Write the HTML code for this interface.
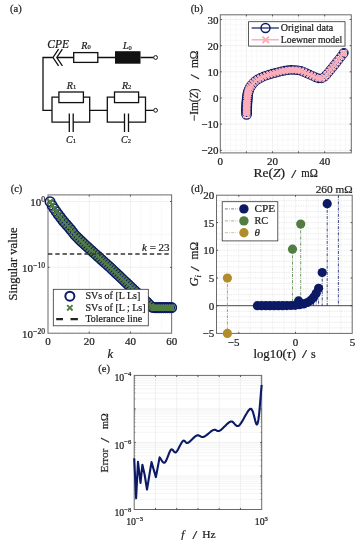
<!DOCTYPE html>
<html lang="en">
<head>
<meta charset="utf-8">
<title>Figure</title>
<style>
html,body{margin:0;padding:0;background:#fff;}
body{width:363px;height:550px;overflow:hidden;}
svg{display:block;font-family:"Liberation Serif","DejaVu Serif",serif;}
text{stroke:#1c1c1c;stroke-width:0.22px;}
</style>
</head>
<body>
<svg width="363" height="550" viewBox="0 0 363 550">
<rect width="363" height="550" fill="#fff"/>
<g id="pa">
<text x="10.1" y="11.9" font-size="10.5" text-anchor="start" fill="#1c1c1c">(a)</text>
<path d="M53 57.5H43V110.3H52M57 57.5H73.7M97.8 57.5H115M140.5 57.5H153.6M58.9 97.2H52V122.2H69.3M73.2 122.2H89.7V97.2H83.4M89.7 110.3H107.3M114.5 97.2H107.3V122.2H124.5M128.5 122.2H145.5V97.2H138.6M145.5 110.3H153.6M69.3 113.4V132M73.2 113.4V132M124.5 113.4V132M128.5 113.4V132M58.6 49.2L53 57.5L58.6 65.8M62.4 49.2L56.8 57.5L62.4 65.8" fill="none" stroke="#111" stroke-width="1.3" stroke-linejoin="miter"/>
<rect x="73.7" y="52.6" width="24.1" height="9.8" fill="#fff" stroke="#111" stroke-width="1.3"/>
<rect x="58.9" y="92" width="24.5" height="10.6" fill="#fff" stroke="#111" stroke-width="1.3"/>
<rect x="114.5" y="92" width="24.1" height="10.6" fill="#fff" stroke="#111" stroke-width="1.3"/>
<rect x="115" y="51.2" width="25.5" height="12.5" fill="#111"/>
<circle cx="155.6" cy="57.5" r="1.9" fill="#fff" stroke="#111" stroke-width="1"/>
<circle cx="155.6" cy="110.3" r="1.9" fill="#fff" stroke="#111" stroke-width="1"/>
<text x="47.3" y="47.7" font-size="11.5" text-anchor="start" font-style="italic" fill="#1c1c1c">CPE</text>
<text x="81.3" y="49" font-size="10" fill="#1c1c1c"><tspan font-style="italic">R</tspan><tspan font-size="6.5" dy="0.3">0</tspan></text>
<text x="123" y="49.3" font-size="10" fill="#1c1c1c"><tspan font-style="italic">L</tspan><tspan font-size="6.5" dy="0.3">0</tspan></text>
<text x="66.8" y="88.9" font-size="10" fill="#1c1c1c"><tspan font-style="italic">R</tspan><tspan font-size="6.5" dy="0.3">1</tspan></text>
<text x="122" y="88.9" font-size="10" fill="#1c1c1c"><tspan font-style="italic">R</tspan><tspan font-size="6.5" dy="0.3">2</tspan></text>
<text x="66" y="142.5" font-size="10" fill="#1c1c1c"><tspan font-style="italic">C</tspan><tspan font-size="6.5" dy="0.3">1</tspan></text>
<text x="121" y="142.5" font-size="10" fill="#1c1c1c"><tspan font-style="italic">C</tspan><tspan font-size="6.5" dy="0.3">2</tspan></text>
</g>
<g id="pb">
<text x="190.8" y="11.9" font-size="10.5" text-anchor="start" fill="#1c1c1c">(b)</text>
<path d="M225.52 14.8V152.9M230.74 14.8V152.9M235.95 14.8V152.9M241.17 14.8V152.9M251.61 14.8V152.9M256.83 14.8V152.9M262.04 14.8V152.9M267.26 14.8V152.9M277.7 14.8V152.9M282.92 14.8V152.9M288.13 14.8V152.9M293.35 14.8V152.9M303.79 14.8V152.9M309.01 14.8V152.9M314.22 14.8V152.9M319.44 14.8V152.9M329.88 14.8V152.9M335.1 14.8V152.9M340.31 14.8V152.9M345.53 14.8V152.9" stroke="#ebebeb" stroke-width="0.6" fill="none" stroke-dasharray="1 1"/>
<path d="M220.3 145.07H351.3M220.3 139.84H351.3M220.3 134.6H351.3M220.3 129.37H351.3M220.3 118.91H351.3M220.3 113.68H351.3M220.3 108.44H351.3M220.3 103.21H351.3M220.3 92.75H351.3M220.3 87.52H351.3M220.3 82.28H351.3M220.3 77.05H351.3M220.3 66.59H351.3M220.3 61.36H351.3M220.3 56.12H351.3M220.3 50.89H351.3M220.3 40.43H351.3M220.3 35.2H351.3M220.3 29.96H351.3M220.3 24.73H351.3" stroke="#ebebeb" stroke-width="0.6" fill="none" stroke-dasharray="1 1"/>
<path d="M246.39 14.8V152.9M272.48 14.8V152.9M298.57 14.8V152.9M324.66 14.8V152.9" stroke="#e7e7e7" stroke-width="0.6" fill="none"/>
<path d="M220.3 150.3H351.3M220.3 124.14H351.3M220.3 97.98H351.3M220.3 71.82H351.3M220.3 45.66H351.3M220.3 19.5H351.3" stroke="#e7e7e7" stroke-width="0.6" fill="none"/>
<rect x="220.3" y="14.8" width="131" height="138.1" fill="none" stroke="#6a6a6a" stroke-width="1"/>
<path d="M246.39 152.9v-1.6M246.39 14.8v1.6M272.48 152.9v-1.6M272.48 14.8v1.6M298.57 152.9v-1.6M298.57 14.8v1.6M324.66 152.9v-1.6M324.66 14.8v1.6M220.3 150.3h1.6M351.3 150.3h-1.6M220.3 124.14h1.6M351.3 124.14h-1.6M220.3 97.98h1.6M351.3 97.98h-1.6M220.3 71.82h1.6M351.3 71.82h-1.6M220.3 45.66h1.6M351.3 45.66h-1.6M220.3 19.5h1.6M351.3 19.5h-1.6" stroke="#333" stroke-width="0.8" fill="none"/>
<g fill="none" stroke="#0c1a66" stroke-width="1.15"><circle cx="246.6" cy="114.3" r="4.85"/><circle cx="246.64" cy="111.7" r="4.85"/><circle cx="246.65" cy="110.64" r="4.85"/><circle cx="246.67" cy="109.52" r="4.85"/><circle cx="246.69" cy="108.33" r="4.85"/><circle cx="246.72" cy="107.07" r="4.85"/><circle cx="246.77" cy="105.74" r="4.85"/><circle cx="246.83" cy="104.32" r="4.85"/><circle cx="246.91" cy="102.82" r="4.85"/><circle cx="247.02" cy="101.22" r="4.85"/><circle cx="247.15" cy="99.54" r="4.85"/><circle cx="247.31" cy="97.75" r="4.82"/><circle cx="247.54" cy="95.86" r="4.78"/><circle cx="247.84" cy="93.86" r="4.74"/><circle cx="248.28" cy="91.77" r="4.7"/><circle cx="248.99" cy="89.62" r="4.65"/><circle cx="250.03" cy="87.45" r="4.6"/><circle cx="251.42" cy="85.31" r="4.55"/><circle cx="253.13" cy="83.22" r="4.5"/><circle cx="255.23" cy="81.25" r="4.44"/><circle cx="257.71" cy="79.5" r="4.38"/><circle cx="260.52" cy="77.97" r="4.32"/><circle cx="263.43" cy="76.63" r="4.25"/><circle cx="266.41" cy="75.48" r="4.25"/><circle cx="269.47" cy="74.52" r="4.25"/><circle cx="272.55" cy="73.65" r="4.25"/><circle cx="275.63" cy="72.81" r="4.25"/><circle cx="278.73" cy="72.01" r="4.25"/><circle cx="281.85" cy="71.29" r="4.25"/><circle cx="284.99" cy="70.69" r="4.25"/><circle cx="288.15" cy="70.18" r="4.25"/><circle cx="291.33" cy="69.88" r="4.25"/><circle cx="294.53" cy="70" r="4.25"/><circle cx="297.72" cy="70.25" r="4.25"/><circle cx="300.86" cy="70.82" r="4.25"/><circle cx="303.83" cy="72" r="4.25"/><circle cx="306.75" cy="73.32" r="4.25"/><circle cx="309.66" cy="74.64" r="4.25"/><circle cx="312.58" cy="75.96" r="4.25"/><circle cx="315.48" cy="77.31" r="4.25"/><circle cx="318.5" cy="78.35" r="4.25"/><circle cx="321.66" cy="78.46" r="4.25"/><circle cx="324.38" cy="76.83" r="4.25"/><circle cx="326.6" cy="74.53" r="4.25"/><circle cx="328.69" cy="72.1" r="4.25"/><circle cx="330.74" cy="69.64" r="4.25"/><circle cx="332.76" cy="67.16" r="4.25"/><circle cx="334.79" cy="64.64" r="4.25"/><circle cx="336.83" cy="62.03" r="4.25"/><circle cx="338.9" cy="59.34" r="4.25"/><circle cx="341.01" cy="56.58" r="4.25"/><circle cx="343.17" cy="53.76" r="4.25"/><circle cx="343.9" cy="52.8" r="4.25"/></g>
<path d="M246.6 114.3L246.64 111.7L246.65 110.64L246.67 109.52L246.69 108.33L246.72 107.07L246.77 105.74L246.83 104.32L246.91 102.82L247.02 101.22L247.15 99.54L247.31 97.75L247.54 95.86L247.84 93.86L248.28 91.77L248.99 89.62L250.03 87.45L251.42 85.31L253.13 83.22L255.23 81.25L257.71 79.5L260.52 77.97L263.43 76.63L266.41 75.48L269.47 74.52L272.55 73.65L275.63 72.81L278.73 72.01L281.85 71.29L284.99 70.69L288.15 70.18L291.33 69.88L294.53 70L297.72 70.25L300.86 70.82L303.83 72L306.75 73.32L309.66 74.64L312.58 75.96L315.48 77.31L318.5 78.35L321.66 78.46L324.38 76.83L326.6 74.53L328.69 72.1L330.74 69.64L332.76 67.16L334.79 64.64L336.83 62.03L338.9 59.34L341.01 56.58L343.17 53.76L343.9 52.8" fill="none" stroke="#fbadb9" stroke-width="1.2"/>
<path d="M243.2 110.9l6.8 6.8M243.2 117.7l6.8 -6.8M243.24 108.3l6.8 6.8M243.24 115.1l6.8 -6.8M243.25 107.24l6.8 6.8M243.25 114.04l6.8 -6.8M243.27 106.12l6.8 6.8M243.27 112.92l6.8 -6.8M243.29 104.93l6.8 6.8M243.29 111.73l6.8 -6.8M243.32 103.67l6.8 6.8M243.32 110.47l6.8 -6.8M243.37 102.34l6.8 6.8M243.37 109.14l6.8 -6.8M243.43 100.92l6.8 6.8M243.43 107.72l6.8 -6.8M243.51 99.42l6.8 6.8M243.51 106.22l6.8 -6.8M243.62 97.82l6.8 6.8M243.62 104.62l6.8 -6.8M243.75 96.14l6.8 6.8M243.75 102.94l6.8 -6.8M243.94 94.37l6.75 6.75M243.94 101.13l6.75 -6.75M244.2 92.51l6.7 6.7M244.2 99.21l6.7 -6.7M244.52 90.55l6.64 6.64M244.52 97.18l6.64 -6.64M245 88.49l6.57 6.57M245 95.06l6.57 -6.57M245.74 86.37l6.5 6.5M245.74 92.87l6.5 -6.5M246.81 84.23l6.43 6.43M246.81 90.66l6.43 -6.43M248.24 82.13l6.35 6.35M248.24 88.48l6.35 -6.35M250 80.08l6.27 6.27M250 86.35l6.27 -6.27M252.14 78.16l6.19 6.19M252.14 84.35l6.19 -6.19M254.66 76.45l6.1 6.1M254.66 82.54l6.1 -6.1M257.52 74.97l6 6M257.52 80.97l6 -6M260.48 73.68l5.9 5.9M260.48 79.59l5.9 -5.9M263.46 72.53l5.9 5.9M263.46 78.43l5.9 -5.9M266.52 71.57l5.9 5.9M266.52 77.47l5.9 -5.9M269.6 70.7l5.9 5.9M269.6 76.6l5.9 -5.9M272.68 69.86l5.9 5.9M272.68 75.76l5.9 -5.9M275.78 69.06l5.9 5.9M275.78 74.96l5.9 -5.9M278.9 68.34l5.9 5.9M278.9 74.24l5.9 -5.9M282.04 67.74l5.9 5.9M282.04 73.64l5.9 -5.9M285.2 67.23l5.9 5.9M285.2 73.13l5.9 -5.9M288.38 66.93l5.9 5.9M288.38 72.83l5.9 -5.9M291.58 67.05l5.9 5.9M291.58 72.95l5.9 -5.9M294.77 67.3l5.9 5.9M294.77 73.2l5.9 -5.9M297.91 67.87l5.9 5.9M297.91 73.77l5.9 -5.9M300.88 69.05l5.9 5.9M300.88 74.95l5.9 -5.9M303.8 70.37l5.9 5.9M303.8 76.27l5.9 -5.9M306.71 71.69l5.9 5.9M306.71 77.59l5.9 -5.9M309.63 73.01l5.9 5.9M309.63 78.91l5.9 -5.9M312.53 74.36l5.9 5.9M312.53 80.26l5.9 -5.9M315.55 75.4l5.9 5.9M315.55 81.3l5.9 -5.9M318.71 75.51l5.9 5.9M318.71 81.41l5.9 -5.9M321.43 73.88l5.9 5.9M321.43 79.78l5.9 -5.9M323.65 71.58l5.9 5.9M323.65 77.48l5.9 -5.9M325.74 69.15l5.9 5.9M325.74 75.05l5.9 -5.9M327.79 66.69l5.9 5.9M327.79 72.59l5.9 -5.9M329.81 64.21l5.9 5.9M329.81 70.11l5.9 -5.9M331.84 61.69l5.9 5.9M331.84 67.59l5.9 -5.9M333.88 59.08l5.9 5.9M333.88 64.98l5.9 -5.9M335.95 56.39l5.9 5.9M335.95 62.29l5.9 -5.9M338.06 53.63l5.9 5.9M338.06 59.53l5.9 -5.9M340.22 50.81l5.9 5.9M340.22 56.71l5.9 -5.9M340.95 49.85l5.9 5.9M340.95 55.75l5.9 -5.9" fill="none" stroke="#fbadb9" stroke-width="2"/>
<rect x="248.6" y="21.7" width="96.4" height="24.4" fill="#fff" stroke="#333" stroke-width="0.8"/>
<line x1="251.6" y1="28" x2="278.9" y2="28" stroke="#0c1a66" stroke-width="1.2"/>
<circle cx="265.5" cy="28.0" r="4.5" fill="none" stroke="#0c1a66" stroke-width="1.4"/>
<line x1="251.6" y1="39.8" x2="278.9" y2="39.8" stroke="#fbadb9" stroke-width="1.5"/>
<path d="M262.5 36.6l6.4 6.4M262.5 43l6.4 -6.4" stroke="#fbadb9" stroke-width="1.9" fill="none"/>
<text x="280.8" y="30.9" font-size="10" text-anchor="start" fill="#1c1c1c">Original data</text>
<text x="280.8" y="42.5" font-size="10" text-anchor="start" fill="#1c1c1c" textLength="61.5" lengthAdjust="spacingAndGlyphs">Loewner model</text>
<text x="218.4" y="23.75" font-size="11" text-anchor="end" fill="#1c1c1c">30</text>
<text x="218.4" y="49.76" font-size="11" text-anchor="end" fill="#1c1c1c">20</text>
<text x="218.4" y="75.77" font-size="11" text-anchor="end" fill="#1c1c1c">10</text>
<text x="218.4" y="101.78" font-size="11" text-anchor="end" fill="#1c1c1c">0</text>
<text x="218.4" y="127.79" font-size="11" text-anchor="end" fill="#1c1c1c">−10</text>
<text x="218.4" y="153.8" font-size="11" text-anchor="end" fill="#1c1c1c">−20</text>
<text x="220.3" y="165.1" font-size="11" text-anchor="middle" fill="#1c1c1c">0</text>
<text x="272.48" y="165.1" font-size="11" text-anchor="middle" fill="#1c1c1c">20</text>
<text x="324.66" y="165.1" font-size="11" text-anchor="middle" fill="#1c1c1c">40</text>
<g transform="translate(198 121) rotate(-90)" font-size="12" fill="#1c1c1c" stroke-width="0.3">
<text x="0" y="0" text-anchor="start" stroke-width="0.3" textLength="32.6" lengthAdjust="spacingAndGlyphs">−Im(<tspan font-style="italic">Z</tspan>)</text>
<text x="41.68" y="0.6" font-size="13.2" stroke-width="0.3" textLength="5.04" lengthAdjust="spacingAndGlyphs">/</text>
<text x="52.9" y="0" text-anchor="start" stroke-width="0.3" textLength="17.4" lengthAdjust="spacingAndGlyphs">mΩ</text>
</g>
<g transform="translate(253.4 177.4)" font-size="12" fill="#1c1c1c" stroke-width="0.3">
<text x="0" y="0" text-anchor="start" stroke-width="0.3" textLength="31.7" lengthAdjust="spacingAndGlyphs">Re(<tspan font-style="italic">Z</tspan>)</text>
<text x="37.78" y="0.6" font-size="13.2" stroke-width="0.3" textLength="5.04" lengthAdjust="spacingAndGlyphs">/</text>
<text x="47.8" y="0" text-anchor="start" stroke-width="0.3" textLength="16.5" lengthAdjust="spacingAndGlyphs">mΩ</text>
</g>
</g>
<g id="pc">
<text x="10.7" y="191.5" font-size="10.5" text-anchor="start" fill="#1c1c1c" stroke-width="0.45">(c)</text>
<path d="M58.3 194.9V333.2M68.61 194.9V333.2M78.91 194.9V333.2M99.52 194.9V333.2M109.83 194.9V333.2M120.13 194.9V333.2M140.74 194.9V333.2M151.04 194.9V333.2M161.35 194.9V333.2" stroke="#ebebeb" stroke-width="0.6" fill="none" stroke-dasharray="1 1"/>
<path d="M48 234.41H171.65M48 300.27H171.65" stroke="#ebebeb" stroke-width="0.6" fill="none" stroke-dasharray="1 1"/>
<path d="M89.22 194.9V333.2M130.43 194.9V333.2" stroke="#e7e7e7" stroke-width="0.6" fill="none"/>
<path d="M48 201.49H171.65M48 267.34H171.65" stroke="#e7e7e7" stroke-width="0.6" fill="none"/>
<rect x="48" y="194.9" width="123.65" height="138.3" fill="none" stroke="#6a6a6a" stroke-width="1"/>
<path d="M89.22 333.2v-1.6M89.22 194.9v1.6M130.43 333.2v-1.6M130.43 194.9v1.6M48 201.49h1.6M171.65 201.49h-1.6M48 267.34h1.6M171.65 267.34h-1.6" stroke="#333" stroke-width="0.8" fill="none"/>
<g fill="none" stroke="#0c1a66" stroke-width="1.65"><circle cx="50.06" cy="201.71" r="4.7"/><circle cx="52.12" cy="205.42" r="4.7"/><circle cx="54.18" cy="208.69" r="4.7"/><circle cx="56.24" cy="211.63" r="4.7"/><circle cx="58.3" cy="214.48" r="4.7"/><circle cx="60.37" cy="217.26" r="4.7"/><circle cx="62.43" cy="220.03" r="4.7"/><circle cx="64.49" cy="222.46" r="4.7"/><circle cx="66.55" cy="224.75" r="4.7"/><circle cx="68.61" cy="227.05" r="4.7"/><circle cx="70.67" cy="229.47" r="4.7"/><circle cx="72.73" cy="232.15" r="4.7"/><circle cx="74.79" cy="234.83" r="4.7"/><circle cx="76.85" cy="236.95" r="4.7"/><circle cx="78.91" cy="239.01" r="4.7"/><circle cx="80.97" cy="241" r="4.7"/><circle cx="83.03" cy="242.89" r="4.7"/><circle cx="85.09" cy="244.79" r="4.7"/><circle cx="87.16" cy="246.68" r="4.7"/><circle cx="89.22" cy="248.58" r="4.7"/><circle cx="91.28" cy="250.45" r="4.7"/><circle cx="93.34" cy="252.3" r="4.7"/><circle cx="95.4" cy="254.16" r="4.7"/><circle cx="97.46" cy="256.01" r="4.7"/><circle cx="99.52" cy="257.87" r="4.7"/><circle cx="101.58" cy="259.72" r="4.7"/><circle cx="103.64" cy="261.58" r="4.7"/><circle cx="105.7" cy="263.43" r="4.7"/><circle cx="107.76" cy="265.29" r="4.7"/><circle cx="109.83" cy="267.14" r="4.7"/><circle cx="111.89" cy="269.09" r="4.7"/><circle cx="113.95" cy="271.04" r="4.7"/><circle cx="116.01" cy="273" r="4.7"/><circle cx="118.07" cy="274.95" r="4.7"/><circle cx="120.13" cy="276.9" r="4.7"/><circle cx="122.19" cy="278.86" r="4.7"/><circle cx="124.25" cy="280.81" r="4.7"/><circle cx="126.31" cy="282.76" r="4.7"/><circle cx="128.37" cy="284.72" r="4.7"/><circle cx="130.43" cy="286.67" r="4.7"/><circle cx="132.49" cy="288.62" r="4.7"/><circle cx="134.56" cy="290.58" r="4.7"/><circle cx="136.62" cy="292.49" r="4.7"/><circle cx="138.68" cy="294.39" r="4.7"/><circle cx="140.74" cy="296.28" r="4.7"/><circle cx="142.8" cy="298.2" r="4.7"/><circle cx="144.86" cy="300.23" r="4.7"/><circle cx="146.92" cy="302.27" r="4.7"/><circle cx="148.98" cy="304.31" r="4.7"/><circle cx="151.04" cy="306.34" r="4.7"/><circle cx="153.1" cy="307.55" r="4.7"/><circle cx="155.16" cy="307.6" r="4.7"/><circle cx="157.22" cy="307.6" r="4.7"/><circle cx="159.29" cy="307.6" r="4.7"/><circle cx="161.35" cy="307.6" r="4.7"/><circle cx="163.41" cy="307.6" r="4.7"/><circle cx="165.47" cy="307.6" r="4.7"/><circle cx="167.53" cy="307.6" r="4.7"/><circle cx="169.59" cy="307.6" r="4.7"/><circle cx="171.65" cy="307.6" r="4.7"/></g>
<path d="M47.16 198.81l5.8 5.8M47.16 204.61l5.8 -5.8M49.22 202.52l5.8 5.8M49.22 208.32l5.8 -5.8M51.28 205.79l5.8 5.8M51.28 211.59l5.8 -5.8M53.34 208.73l5.8 5.8M53.34 214.53l5.8 -5.8M55.4 211.58l5.8 5.8M55.4 217.38l5.8 -5.8M57.47 214.36l5.8 5.8M57.47 220.16l5.8 -5.8M59.53 217.13l5.8 5.8M59.53 222.93l5.8 -5.8M61.59 219.56l5.8 5.8M61.59 225.36l5.8 -5.8M63.65 221.85l5.8 5.8M63.65 227.65l5.8 -5.8M65.71 224.15l5.8 5.8M65.71 229.95l5.8 -5.8M67.77 226.57l5.8 5.8M67.77 232.37l5.8 -5.8M69.83 229.25l5.8 5.8M69.83 235.05l5.8 -5.8M71.89 231.93l5.8 5.8M71.89 237.73l5.8 -5.8M73.95 234.05l5.8 5.8M73.95 239.85l5.8 -5.8M76.01 236.11l5.8 5.8M76.01 241.91l5.8 -5.8M78.07 238.1l5.8 5.8M78.07 243.9l5.8 -5.8M80.13 239.99l5.8 5.8M80.13 245.79l5.8 -5.8M82.19 241.89l5.8 5.8M82.19 247.69l5.8 -5.8M84.26 243.78l5.8 5.8M84.26 249.58l5.8 -5.8M86.32 245.68l5.8 5.8M86.32 251.48l5.8 -5.8M88.38 247.55l5.8 5.8M88.38 253.35l5.8 -5.8M90.44 249.4l5.8 5.8M90.44 255.2l5.8 -5.8M92.5 251.26l5.8 5.8M92.5 257.06l5.8 -5.8M94.56 253.11l5.8 5.8M94.56 258.91l5.8 -5.8M96.62 254.97l5.8 5.8M96.62 260.77l5.8 -5.8M98.68 256.82l5.8 5.8M98.68 262.62l5.8 -5.8M100.74 258.68l5.8 5.8M100.74 264.48l5.8 -5.8M102.8 260.53l5.8 5.8M102.8 266.33l5.8 -5.8M104.86 262.39l5.8 5.8M104.86 268.19l5.8 -5.8M106.92 264.24l5.8 5.8M106.92 270.04l5.8 -5.8M108.99 266.19l5.8 5.8M108.99 271.99l5.8 -5.8M111.05 268.14l5.8 5.8M111.05 273.94l5.8 -5.8M113.11 270.1l5.8 5.8M113.11 275.9l5.8 -5.8M115.17 272.05l5.8 5.8M115.17 277.85l5.8 -5.8M117.23 274l5.8 5.8M117.23 279.8l5.8 -5.8M119.29 275.96l5.8 5.8M119.29 281.76l5.8 -5.8M121.35 277.91l5.8 5.8M121.35 283.71l5.8 -5.8M123.41 279.86l5.8 5.8M123.41 285.66l5.8 -5.8M125.47 281.82l5.8 5.8M125.47 287.62l5.8 -5.8M127.53 283.77l5.8 5.8M127.53 289.57l5.8 -5.8M129.59 285.72l5.8 5.8M129.59 291.52l5.8 -5.8M131.66 287.68l5.8 5.8M131.66 293.48l5.8 -5.8M133.72 289.59l5.8 5.8M133.72 295.39l5.8 -5.8M135.78 291.49l5.8 5.8M135.78 297.29l5.8 -5.8M137.84 293.38l5.8 5.8M137.84 299.18l5.8 -5.8M139.9 295.3l5.8 5.8M139.9 301.1l5.8 -5.8M141.96 297.33l5.8 5.8M141.96 303.13l5.8 -5.8M144.02 299.37l5.8 5.8M144.02 305.17l5.8 -5.8M146.08 301.41l5.8 5.8M146.08 307.21l5.8 -5.8M148.14 303.44l5.8 5.8M148.14 309.24l5.8 -5.8M150.2 304.65l5.8 5.8M150.2 310.45l5.8 -5.8M152.26 304.7l5.8 5.8M152.26 310.5l5.8 -5.8M154.32 304.7l5.8 5.8M154.32 310.5l5.8 -5.8M156.39 304.7l5.8 5.8M156.39 310.5l5.8 -5.8M158.45 304.7l5.8 5.8M158.45 310.5l5.8 -5.8M160.51 304.7l5.8 5.8M160.51 310.5l5.8 -5.8M162.57 304.7l5.8 5.8M162.57 310.5l5.8 -5.8M164.63 304.7l5.8 5.8M164.63 310.5l5.8 -5.8M166.69 304.7l5.8 5.8M166.69 310.5l5.8 -5.8M168.75 304.7l5.8 5.8M168.75 310.5l5.8 -5.8" fill="none" stroke="#527d42" stroke-width="1.9"/>
<line x1="48" y1="254" x2="169.2" y2="254" stroke="#333" stroke-width="1.4" stroke-dasharray="4.4 2.87"/>
<text x="142" y="250.7" font-size="11" text-anchor="start" fill="#1c1c1c"><tspan font-style="italic">k</tspan> = 23</text>
<rect x="53.3" y="289.3" width="95" height="36.5" fill="#fff" stroke="#333" stroke-width="0.8"/>
<circle cx="69.85" cy="296.2" r="4.5" fill="none" stroke="#0c1a66" stroke-width="2"/>
<path d="M67.15 305.1l5.4 5.4M67.15 310.5l5.4 -5.4" stroke="#527d42" stroke-width="1.9" fill="none"/>
<path d="M56.2 319.1h6.8M70.5 319.1h7.4" stroke="#222" stroke-width="2.2" fill="none"/>
<text x="85.4" y="299.3" font-size="10" text-anchor="start" fill="#1c1c1c">SVs of [L Ls]</text>
<text x="85.4" y="311.1" font-size="10" text-anchor="start" fill="#1c1c1c">SVs of [L ; Ls]</text>
<text x="85.4" y="322.4" font-size="10" text-anchor="start" fill="#1c1c1c">Tolerance line</text>
<text x="48" y="345.3" font-size="11" text-anchor="middle" fill="#1c1c1c">0</text>
<text x="89.22" y="345.3" font-size="11" text-anchor="middle" fill="#1c1c1c">20</text>
<text x="130.43" y="345.3" font-size="11" text-anchor="middle" fill="#1c1c1c">40</text>
<text x="171.65" y="345.3" font-size="11" text-anchor="middle" fill="#1c1c1c">60</text>
<text x="45" y="206.19" font-size="11" fill="#1c1c1c" text-anchor="end">10<tspan font-size="7.6" dy="-3.9">0</tspan></text>
<text x="45" y="272.04" font-size="11" fill="#1c1c1c" text-anchor="end">10<tspan font-size="7.6" dy="-3.9">−10</tspan></text>
<text x="45" y="337.9" font-size="11" fill="#1c1c1c" text-anchor="end">10<tspan font-size="7.6" dy="-3.9">−20</tspan></text>
<text transform="translate(17.4 264) rotate(-90)" font-size="12.5" text-anchor="middle" fill="#1c1c1c" textLength="73" lengthAdjust="spacing">Singular value</text>
<text x="110.2" y="358" font-size="12.5" text-anchor="middle" font-style="italic" fill="#1c1c1c">k</text>
</g>
<g id="pd">
<text x="190.9" y="191.5" font-size="10.5" text-anchor="start" fill="#1c1c1c">(d)</text>
<path d="M227.46 195.2V333.4M238.8 195.2V333.4M250.14 195.2V333.4M261.48 195.2V333.4M272.82 195.2V333.4M284.16 195.2V333.4M295.5 195.2V333.4M306.84 195.2V333.4M318.18 195.2V333.4M329.52 195.2V333.4M340.86 195.2V333.4" stroke="#e6e6e6" stroke-width="0.6" fill="none" stroke-dasharray="2 0.8"/>
<path d="M216.5 327.86H352.2M216.5 322.32H352.2M216.5 316.78H352.2M216.5 311.24H352.2M216.5 300.16H352.2M216.5 294.62H352.2M216.5 289.08H352.2M216.5 283.54H352.2M216.5 278H352.2M216.5 272.46H352.2M216.5 266.92H352.2M216.5 261.38H352.2M216.5 255.84H352.2M216.5 250.3H352.2M216.5 244.76H352.2M216.5 239.22H352.2M216.5 233.68H352.2M216.5 228.14H352.2M216.5 222.6H352.2M216.5 217.06H352.2M216.5 211.52H352.2M216.5 205.98H352.2M216.5 200.44H352.2" stroke="#dedede" stroke-width="0.7" fill="none" stroke-dasharray="1.3 1.1"/>
<rect x="216.5" y="195.2" width="135.7" height="138.2" fill="none" stroke="#6a6a6a" stroke-width="1"/>
<path d="M238.8 333.4v-1.6M238.8 195.2v1.6M295.5 333.4v-1.6M295.5 195.2v1.6M216.5 222.6h1.6M352.2 222.6h-1.6M216.5 250.3h1.6M352.2 250.3h-1.6M216.5 278h1.6M352.2 278h-1.6M216.5 305.7h1.6M352.2 305.7h-1.6" stroke="#333" stroke-width="0.8" fill="none"/>
<line x1="216.5" y1="305.7" x2="352.2" y2="305.7" stroke="#333" stroke-width="0.9"/>
<line x1="227.4" y1="278" x2="227.4" y2="333.4" stroke="#b08d2a" stroke-width="0.8" stroke-dasharray="3 1.2 0.8 1.2"/>
<circle cx="227.4" cy="278" r="4.6" fill="#b08d2a"/>
<circle cx="227.4" cy="333.4" r="4.6" fill="#b08d2a"/>
<line x1="292.5" y1="249.2" x2="292.5" y2="305.7" stroke="#527d42" stroke-width="0.8" stroke-dasharray="3 1.2 0.8 1.2"/>
<line x1="300.7" y1="224.1" x2="300.7" y2="305.7" stroke="#527d42" stroke-width="0.8" stroke-dasharray="3 1.2 0.8 1.2"/>
<line x1="298.6" y1="300.9" x2="298.6" y2="305.7" stroke="#0c1a66" stroke-width="0.8" stroke-dasharray="3 1.2 0.8 1.2"/>
<line x1="307.4" y1="302.5" x2="307.4" y2="305.7" stroke="#0c1a66" stroke-width="0.8" stroke-dasharray="3 1.2 0.8 1.2"/>
<line x1="310.8" y1="300.3" x2="310.8" y2="305.7" stroke="#0c1a66" stroke-width="0.8" stroke-dasharray="3 1.2 0.8 1.2"/>
<line x1="313.6" y1="297.3" x2="313.6" y2="305.7" stroke="#0c1a66" stroke-width="0.8" stroke-dasharray="3 1.2 0.8 1.2"/>
<line x1="316.2" y1="293.3" x2="316.2" y2="305.7" stroke="#0c1a66" stroke-width="0.8" stroke-dasharray="3 1.2 0.8 1.2"/>
<line x1="318.6" y1="288.3" x2="318.6" y2="305.7" stroke="#0c1a66" stroke-width="0.8" stroke-dasharray="3 1.2 0.8 1.2"/>
<line x1="322.2" y1="272.5" x2="322.2" y2="305.7" stroke="#0c1a66" stroke-width="0.8" stroke-dasharray="3 1.2 0.8 1.2"/>
<line x1="327.2" y1="203.7" x2="327.2" y2="305.7" stroke="#0c1a66" stroke-width="0.8" stroke-dasharray="3 1.2 0.8 1.2"/>
<line x1="338.4" y1="195.2" x2="338.4" y2="305.7" stroke="#0c1a66" stroke-width="0.8" stroke-dasharray="3 1.2 0.8 1.2"/>
<circle cx="292.5" cy="249.2" r="4.6" fill="#527d42"/>
<circle cx="300.7" cy="224.1" r="4.6" fill="#527d42"/>
<g fill="#0c1a66"><circle cx="257.4" cy="305.7" r="4.6"/><circle cx="261.6" cy="305.7" r="4.6"/><circle cx="265.8" cy="305.7" r="4.6"/><circle cx="270" cy="305.7" r="4.6"/><circle cx="274.2" cy="305.7" r="4.6"/><circle cx="278.4" cy="305.7" r="4.6"/><circle cx="282.6" cy="305.7" r="4.6"/><circle cx="286.8" cy="305.6" r="4.6"/><circle cx="291" cy="305.5" r="4.6"/><circle cx="295.2" cy="305.3" r="4.6"/><circle cx="298.6" cy="300.9" r="4.6"/><circle cx="299.4" cy="304.7" r="4.6"/><circle cx="303.6" cy="303.9" r="4.6"/><circle cx="307.4" cy="302.5" r="4.6"/><circle cx="310.8" cy="300.3" r="4.6"/><circle cx="313.6" cy="297.3" r="4.6"/><circle cx="316.2" cy="293.3" r="4.6"/><circle cx="318.6" cy="288.3" r="4.6"/><circle cx="322.2" cy="272.5" r="4.6"/><circle cx="327.2" cy="203.7" r="4.6"/></g>
<rect x="222.2" y="201.7" width="55.6" height="39.2" fill="#fff" stroke="#333" stroke-width="0.8"/>
<line x1="224.9" y1="208.9" x2="237.8" y2="208.9" stroke="#0c1a66" stroke-width="0.7" stroke-dasharray="3 1.2 0.8 1.2" stroke-opacity="0.8"/>
<circle cx="243.9" cy="208.9" r="4.7" fill="#0c1a66"/>
<text x="254.5" y="212.4" font-size="11" text-anchor="start" fill="#1c1c1c" textLength="20.7" lengthAdjust="spacingAndGlyphs">CPE</text>
<line x1="224.9" y1="220.9" x2="237.8" y2="220.9" stroke="#527d42" stroke-width="0.7" stroke-dasharray="3 1.2 0.8 1.2" stroke-opacity="0.8"/>
<circle cx="243.9" cy="220.9" r="4.7" fill="#527d42"/>
<text x="254.5" y="223.7" font-size="11" text-anchor="start" fill="#1c1c1c" textLength="13.7" lengthAdjust="spacingAndGlyphs">RC</text>
<line x1="224.9" y1="232.7" x2="237.8" y2="232.7" stroke="#b08d2a" stroke-width="0.7" stroke-dasharray="3 1.2 0.8 1.2" stroke-opacity="0.8"/>
<circle cx="243.9" cy="232.7" r="4.7" fill="#b08d2a"/>
<text x="254.5" y="236" font-size="11" text-anchor="start" font-style="italic" fill="#1c1c1c">θ</text>
<text x="352.6" y="193.1" font-size="11.3" text-anchor="end" fill="#1c1c1c" stroke-width="0.3">260 mΩ</text>
<text x="214.3" y="198.8" font-size="11" text-anchor="end" fill="#1c1c1c">20</text>
<text x="214.3" y="226.5" font-size="11" text-anchor="end" fill="#1c1c1c">15</text>
<text x="214.3" y="254.2" font-size="11" text-anchor="end" fill="#1c1c1c">10</text>
<text x="214.3" y="281.9" font-size="11" text-anchor="end" fill="#1c1c1c">5</text>
<text x="214.3" y="309.6" font-size="11" text-anchor="end" fill="#1c1c1c">0</text>
<text x="214.3" y="337.3" font-size="11" text-anchor="end" fill="#1c1c1c">−5</text>
<text x="233.6" y="345.5" font-size="11" text-anchor="middle" fill="#1c1c1c">−5</text>
<text x="295.6" y="345.5" font-size="11" text-anchor="middle" fill="#1c1c1c">0</text>
<text x="352.4" y="345.5" font-size="11" text-anchor="middle" fill="#1c1c1c">5</text>
<g transform="translate(198.3 286.3) rotate(-90)" font-size="12" fill="#1c1c1c" stroke-width="0.3">
<text x="-0.3" y="0" text-anchor="start" stroke-width="0.3" textLength="11.5" lengthAdjust="spacingAndGlyphs"><tspan font-style="italic">G</tspan><tspan font-style="italic" font-size="8" dy="2.2">i</tspan></text>
<text x="15.18" y="0.6" font-size="13.2" stroke-width="0.3" textLength="5.04" lengthAdjust="spacingAndGlyphs">/</text>
<text x="26.8" y="0" text-anchor="start" stroke-width="0.3" textLength="17.4" lengthAdjust="spacingAndGlyphs">mΩ</text>
</g>
<g transform="translate(253.4 357.7)" font-size="12" fill="#1c1c1c" stroke-width="0.3">
<text x="0" y="0" text-anchor="start" stroke-width="0.3" textLength="42.7" lengthAdjust="spacingAndGlyphs">log10(<tspan font-style="italic" font-size="13">τ</tspan>)</text>
<text x="48.58" y="0.6" font-size="13.2" stroke-width="0.3" textLength="5.04" lengthAdjust="spacingAndGlyphs">/</text>
<text x="57.7" y="0" text-anchor="start" stroke-width="0.3">s</text>
</g>
</g>
<g id="pe">
<text x="98.3" y="372.3" font-size="10.5" text-anchor="start" fill="#1c1c1c" stroke-width="0.45">(e)</text>
<path d="M134.2 499.41H261.7M134.2 493.5H261.7M134.2 489.32H261.7M134.2 486.07H261.7M134.2 483.41H261.7M134.2 481.17H261.7M134.2 479.22H261.7M134.2 477.51H261.7M134.2 465.88H261.7M134.2 459.98H261.7M134.2 455.79H261.7M134.2 452.54H261.7M134.2 449.89H261.7M134.2 447.64H261.7M134.2 445.7H261.7M134.2 443.98H261.7M134.2 432.36H261.7M134.2 426.45H261.7M134.2 422.27H261.7M134.2 419.02H261.7M134.2 416.36H261.7M134.2 414.12H261.7M134.2 412.17H261.7M134.2 410.46H261.7M134.2 398.83H261.7M134.2 392.93H261.7M134.2 388.74H261.7M134.2 385.49H261.7M134.2 382.84H261.7M134.2 380.59H261.7M134.2 378.65H261.7M134.2 376.93H261.7" stroke="#ebebeb" stroke-width="0.5" fill="none"/>
<path d="M155.45 375.4V509.5M176.7 375.4V509.5M197.95 375.4V509.5M219.2 375.4V509.5M240.45 375.4V509.5" stroke="#e7e7e7" stroke-width="0.6" fill="none"/>
<path d="M134.2 408.92H261.7M134.2 442.45H261.7M134.2 475.98H261.7" stroke="#e7e7e7" stroke-width="0.6" fill="none"/>
<rect x="134.2" y="375.4" width="127.5" height="134.1" fill="none" stroke="#6a6a6a" stroke-width="1"/>
<path d="M134.2 499.41h1.2M261.7 499.41h-1.2M134.2 493.5h1.2M261.7 493.5h-1.2M134.2 489.32h1.2M261.7 489.32h-1.2M134.2 486.07h1.2M261.7 486.07h-1.2M134.2 483.41h1.2M261.7 483.41h-1.2M134.2 481.17h1.2M261.7 481.17h-1.2M134.2 479.22h1.2M261.7 479.22h-1.2M134.2 477.51h1.2M261.7 477.51h-1.2M134.2 465.88h1.2M261.7 465.88h-1.2M134.2 459.98h1.2M261.7 459.98h-1.2M134.2 455.79h1.2M261.7 455.79h-1.2M134.2 452.54h1.2M261.7 452.54h-1.2M134.2 449.89h1.2M261.7 449.89h-1.2M134.2 447.64h1.2M261.7 447.64h-1.2M134.2 445.7h1.2M261.7 445.7h-1.2M134.2 443.98h1.2M261.7 443.98h-1.2M134.2 432.36h1.2M261.7 432.36h-1.2M134.2 426.45h1.2M261.7 426.45h-1.2M134.2 422.27h1.2M261.7 422.27h-1.2M134.2 419.02h1.2M261.7 419.02h-1.2M134.2 416.36h1.2M261.7 416.36h-1.2M134.2 414.12h1.2M261.7 414.12h-1.2M134.2 412.17h1.2M261.7 412.17h-1.2M134.2 410.46h1.2M261.7 410.46h-1.2M134.2 398.83h1.2M261.7 398.83h-1.2M134.2 392.93h1.2M261.7 392.93h-1.2M134.2 388.74h1.2M261.7 388.74h-1.2M134.2 385.49h1.2M261.7 385.49h-1.2M134.2 382.84h1.2M261.7 382.84h-1.2M134.2 380.59h1.2M261.7 380.59h-1.2M134.2 378.65h1.2M261.7 378.65h-1.2M134.2 376.93h1.2M261.7 376.93h-1.2" stroke="#555" stroke-width="0.5" fill="none"/>
<path d="M155.45 509.5v-1.6M155.45 375.4v1.6M176.7 509.5v-1.6M176.7 375.4v1.6M197.95 509.5v-1.6M197.95 375.4v1.6M219.2 509.5v-1.6M219.2 375.4v1.6M240.45 509.5v-1.6M240.45 375.4v1.6M134.2 408.92h1.6M261.7 408.92h-1.6M134.2 442.45h1.6M261.7 442.45h-1.6M134.2 475.98h1.6M261.7 475.98h-1.6" stroke="#333" stroke-width="0.8" fill="none"/>
<path d="M134.2 458.2L136.1 498.2L138 461.8L140.5 482.9L142.4 464.7L144.6 474.5L147 489.5L151.5 462.1L155.9 477.1L159.6 457.4L160.12 457.99L160.62 458.71L161.13 459.49L161.63 460.3L162.14 461.07L162.65 461.75L163.17 462.29L163.7 462.63L164.24 462.71L164.8 462.5L165.38 461.88L166 460.84L166.62 459.49L167.27 457.93L167.91 456.26L168.56 454.58L169.2 452.98L169.82 451.57L170.42 450.44L171 449.7L171.54 449.39L172.04 449.44L172.53 449.76L172.99 450.26L173.45 450.86L173.91 451.46L174.39 451.98L174.89 452.34L175.42 452.44L176 452.2L176.63 451.57L177.31 450.61L178.02 449.41L178.76 448.04L179.51 446.58L180.26 445.12L181 443.75L181.71 442.53L182.38 441.55L183 440.9L183.55 440.6L184.03 440.6L184.47 440.82L184.88 441.19L185.28 441.66L185.68 442.14L186.12 442.57L186.61 442.89L187.16 443.02L187.8 442.9L188.54 442.5L189.37 441.88L190.26 441.09L191.2 440.19L192.18 439.24L193.16 438.28L194.13 437.37L195.07 436.57L195.97 435.93L196.8 435.5L197.56 435.32L198.25 435.35L198.9 435.54L199.53 435.83L200.14 436.18L200.76 436.52L201.4 436.82L202.08 437.02L202.8 437.06L203.6 436.9L204.48 436.51L205.44 435.91L206.46 435.17L207.51 434.33L208.59 433.44L209.66 432.54L210.7 431.69L211.71 430.94L212.65 430.32L213.5 429.9L214.25 429.71L214.9 429.72L215.48 429.88L216.01 430.14L216.53 430.44L217.04 430.73L217.6 430.95L218.21 431.06L218.9 430.99L219.7 430.7L220.63 430.12L221.66 429.29L222.77 428.25L223.94 427.1L225.14 425.89L226.35 424.7L227.54 423.59L228.7 422.64L229.79 421.92L230.8 421.5L231.71 421.47L232.54 421.82L233.31 422.44L234.04 423.23L234.75 424.08L235.47 424.9L236.21 425.57L237 426L237.86 426.07L238.8 425.7L239.86 424.72L241.01 423.16L242.25 421.17L243.53 418.92L244.83 416.56L246.13 414.26L247.39 412.18L248.59 410.46L249.7 409.28L250.7 408.8L251.59 409.26L252.41 410.66L253.17 412.71L253.87 415.18L254.52 417.79L255.14 420.3L255.73 422.43L256.3 423.93L256.85 424.54L257.4 424L257.93 422.28L258.41 419.64L258.87 416.24L259.29 412.24L259.7 407.8L260.1 403.09L260.49 398.27L260.88 393.51L261.28 388.96L261.7 384.8" fill="none" stroke="#0c1a66" stroke-width="2.1" stroke-linejoin="round"/>
<text x="131.2" y="380.5" font-size="9.8" fill="#1c1c1c" text-anchor="end">10<tspan font-size="6.6" dy="-4.2">−4</tspan></text>
<text x="131.2" y="448.5" font-size="9.8" fill="#1c1c1c" text-anchor="end">10<tspan font-size="6.6" dy="-4.2">−6</tspan></text>
<text x="131.2" y="516.1" font-size="9.8" fill="#1c1c1c" text-anchor="end">10<tspan font-size="6.6" dy="-4.2">−8</tspan></text>
<text x="126.2" y="525.3" font-size="9.8" fill="#1c1c1c" text-anchor="start">10<tspan font-size="6.6" dy="-4.2">−3</tspan></text>
<text x="254.8" y="525.3" font-size="9.8" fill="#1c1c1c" text-anchor="start">10<tspan font-size="6.6" dy="-4.2">3</tspan></text>
<g transform="translate(107.9 472.5) rotate(-90)" font-size="11.2" fill="#1c1c1c" stroke-width="0.3">
<text x="0" y="0" text-anchor="start" stroke-width="0.3" textLength="23.9" lengthAdjust="spacingAndGlyphs">Error</text>
<text x="30.05" y="0.6" font-size="12.32" stroke-width="0.3" textLength="4.7" lengthAdjust="spacingAndGlyphs">/</text>
<text x="43.6" y="0" text-anchor="start" stroke-width="0.3" textLength="15.7" lengthAdjust="spacingAndGlyphs">mΩ</text>
</g>
<g transform="translate(180.7 538.4)" font-size="11.2" fill="#1c1c1c" stroke-width="0.3">
<text x="0.6" y="0" text-anchor="start" stroke-width="0.3"><tspan font-style="italic">f</tspan></text>
<text x="11.75" y="0.6" font-size="12.32" stroke-width="0.3" textLength="4.7" lengthAdjust="spacingAndGlyphs">/</text>
<text x="21.5" y="0" text-anchor="start" stroke-width="0.3" textLength="13.3" lengthAdjust="spacingAndGlyphs">Hz</text>
</g>
</g>
</svg>
</body>
</html>
